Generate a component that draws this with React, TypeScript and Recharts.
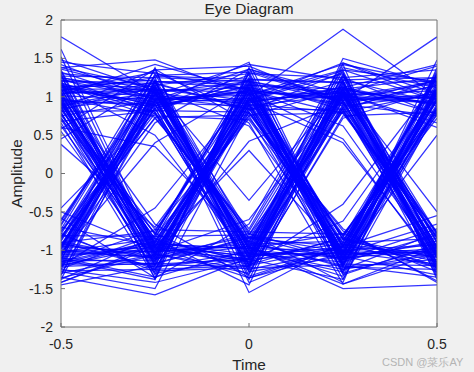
import React from 'react';
import { LineChart, Line, XAxis, YAxis, CartesianGrid } from 'recharts';

// sampling instants of one eye trace
const times = [-0.5, -0.25, 0, 0.25, 0.5];
const xTicks = [-0.5, 0, 0.5];
const yTicks = [-2, -1.5, -1, -0.5, 0, 0.5, 1, 1.5, 2];

// traces starting in the upper band
const tracesHigh: number[][] = [
  [1.78, 1.05, -0.92, 0.88, -1.1],
  [1.62, -0.95, 1.12, -1.05, 0.9],
  [1.45, 1.3, 1.1, -0.85, -1.2],
  [1.38, 1.48, 1.02, 1.35, 0.95],
  [1.3, 1.2, 1.15, 1.1, 1.25],
  [1.22, -1.1, -0.88, 1.05, 1.4],
  [1.15, 0.85, -1.2, -0.95, 1.1],
  [1.1, -0.9, -1.05, -1.15, -0.8],
  [1.05, 1.1, 0.95, 1.3, -0.9],
  [1.0, -1.25, 0.9, 0.8, 1.05],
  [0.95, 0.9, -0.8, 1.2, -1.3],
  [0.9, -0.85, 1.25, -1.2, 1.15],
  [0.85, 1.35, 1.4, 0.9, 0.75],
  [0.8, -1.3, -1.1, 1.3, -1.05],
  [0.75, 0.95, 1.05, -1.3, 0.85],
  [0.7, -1.0, 0.8, -0.75, -1.4],
  [0.6, 0.35, -0.9, 1.0, 1.2],
  [0.55, -1.15, 1.15, 1.05, -0.95],
  [0.45, 1.2, -1.25, -1.0, 1.3],
  [0.38, -0.7, 0.95, 0.4, -1.15],
  [1.25, 1.0, 0.85, -1.1, 1.0],
  [1.18, -1.05, -1.3, 0.75, 0.8],
  [1.08, 1.25, -1.0, -1.25, -1.05],
  [1.02, -0.8, 1.3, 1.25, 1.35],
  [0.98, 0.75, 0.7, -0.9, -0.85],
  [1.12, 0.9, 1.45, -1.05, 1.1],
  [0.92, -1.2, 1.0, 1.88, 1.0],
  [1.2, 1.15, -1.05, 1.5, 1.15],
  [0.88, 1.05, 1.2, 0.95, 1.78],
  [1.05, -0.95, 0.3, -1.05, 0.95],
  [0.95, -1.05, 1.05, 0.45, -1.2],
  [1.15, 0.5, -1.1, 1.05, 0.6],
  [1.32, 0.92, 0.88, 1.02, -1.08],
  [1.28, -1.12, 1.18, -0.92, -1.22],
  [0.82, 1.18, -0.78, -1.12, 1.12],
  [0.78, -0.98, -1.18, 1.22, 0.92],
  [1.48, 1.08, 1.12, -1.02, 1.32],
  [1.52, -1.02, -0.92, -0.88, 1.02],
  [0.68, 0.82, 1.22, 1.18, -1.32],
  [0.98, -1.22, -1.02, -1.28, 1.08],
];

// more upper-band traces
const tracesHigh2: number[][] = [
  [1.12, 1.22, -1.12, 0.82, -1.02],
  [1.02, -0.88, 0.92, 1.12, 0.78],
  [1.18, 0.78, -0.88, -1.22, -1.12],
  [0.88, -1.32, 1.32, 0.92, 1.22],
  [1.08, 1.32, 0.78, -0.82, 0.72],
  [0.72, -0.78, -1.32, 1.02, -0.78],
  [1.22, 0.98, 1.02, 1.42, -1.38],
  [0.92, -1.12, -0.78, -1.42, 1.38],
  [1.38, 1.12, -1.28, 0.72, 1.08],
  [1.02, 1.42, 1.08, 0.78, -0.82],
  [1.3, -1.38, 0.98, -1.08, 1.48],
  [0.85, 1.02, -1.42, -0.92, -1.08],
  [1.15, -0.92, -0.98, 1.42, 1.18],
  [0.95, 0.88, 1.28, -1.22, 0.88],
  [1.05, -1.08, 0.42, 0.92, -0.98],
  [1.1, 1.1, 0.62, -1.05, -1.02],
  [0.9, 1.2, 1.1, 0.62, -1.1],
  [1.25, 1.05, -1.0, 1.1, -0.5],
  [0.62, -1.05, 1.1, -0.95, 1.3],
  [1.35, -0.98, -1.12, -1.02, -1.18],
  [1.01, 0.97, -1.03, 1.06, -0.96],
  [0.96, -1.04, 0.99, -0.95, 1.05],
  [1.07, 1.01, 0.94, -1.06, -0.98],
  [0.93, -0.96, -1.07, 1.02, 1.08],
  [1.04, 1.08, -0.93, -1.09, 0.97],
  [0.99, -1.07, 1.05, 1.04, -1.06],
  [1.09, 0.93, 1.08, 0.96, 1.03],
  [0.94, -0.92, -0.98, -1.0, -0.93],
  [1.14, 1.13, -1.17, 0.86, 1.15],
  [0.87, -1.15, 0.85, -1.12, -0.88],
  [1.17, 0.88, 1.13, -0.86, 0.84],
  [0.83, -0.85, -1.15, 1.17, -1.16],
  [1.21, 1.17, 0.83, 1.13, -0.85],
  [0.79, -1.18, -0.84, -0.83, 1.18],
  [1.24, 0.8, -1.23, -1.19, 0.78],
  [0.76, -0.78, 1.19, 0.83, 1.22],
  [1.27, 1.25, 1.2, -1.22, -1.25],
  [0.73, -1.27, -1.23, 1.25, 0.77],
  [1.16, 0.73, 0.76, 0.79, -0.76],
  [0.84, -0.73, 0.75, -1.27, 1.27],
  [1.11, -0.91, 1.09, 0.91, -1.09],
  [0.89, 1.11, -0.89, 1.09, 0.91],
  [1.19, -1.19, -1.21, 1.18, 1.2],
  [0.81, 0.82, 0.8, -0.81, 0.83],
  [1.36, 1.06, -0.96, -1.34, 1.06],
  [0.66, -1.36, 1.34, 0.94, -1.04],
  [1.42, 0.96, 1.36, 1.04, 0.66],
  [1.06, -0.66, -1.36, -0.96, 1.34],
  [0.58, 1.36, 0.66, -1.44, -0.96],
  [1.33, -1.04, 0.96, 1.44, 1.04],
];

// traces starting in the lower band
const tracesLow: number[][] = [
  [-1.45, -1.2, 0.9, -1.05, 1.1],
  [-1.38, 0.95, -1.1, 1.15, -0.9],
  [-1.3, -1.05, -1.25, 0.85, -1.2],
  [-1.25, 1.1, 1.05, -1.2, -1.35],
  [-1.2, -0.9, 0.75, 1.1, 0.9],
  [-1.15, 1.3, -0.85, -0.95, 1.05],
  [-1.1, -1.35, -1.0, -1.1, -1.0],
  [-1.05, 0.85, 1.2, 1.0, -1.1],
  [-1.0, -1.1, -0.95, 1.35, 1.2],
  [-0.95, 1.05, 0.9, -0.8, 0.8],
  [-0.9, -0.75, 1.1, -1.3, -0.95],
  [-0.85, 1.2, -1.2, 0.9, 1.15],
  [-0.8, -1.25, 0.85, 1.2, -1.25],
  [-0.75, 0.9, -1.05, -1.05, 0.95],
  [-0.7, -0.95, -1.15, -0.85, -1.1],
  [-0.6, 1.15, 1.3, -1.15, 1.3],
  [-0.5, -1.0, 0.95, 1.05, -0.8],
  [-0.45, 0.8, -0.9, -1.2, 0.85],
  [-1.35, -1.58, -1.1, 0.95, 1.0],
  [-1.28, -1.5, 0.8, -1.0, -1.05],
  [-1.12, 1.0, -1.55, -0.9, 1.25],
  [-1.02, -0.85, -1.45, 1.1, -0.95],
  [-0.98, 0.95, -0.95, -1.5, -1.45],
  [-1.05, 1.1, -0.35, 1.1, -1.0],
  [-0.95, 0.85, -1.2, -0.4, 1.2],
  [-1.2, -0.45, 1.05, -0.95, -0.55],
  [-1.32, 0.88, 1.08, 0.98, 1.18],
  [-1.18, -1.18, 1.22, -1.18, 0.88],
  [-1.08, 1.22, -1.08, 1.28, -1.18],
  [-0.92, -1.08, -0.82, -1.02, 1.28],
  [-1.01, -0.97, 1.03, -1.04, 0.96],
  [-0.97, 1.04, -0.98, 0.95, -1.05],
  [-1.06, -1.01, -0.95, 1.05, 0.98],
  [-0.93, 0.96, 1.07, -1.02, -1.08],
  [-1.03, -1.08, 0.93, 1.08, -0.97],
  [-0.99, 1.07, -1.05, -1.04, 1.06],
  [-1.09, -0.93, -1.08, -0.96, -1.03],
  [-0.94, 0.92, 0.98, 1.0, 0.93],
  [-1.14, -1.13, 1.17, -0.86, -1.15],
  [-0.87, 1.15, -0.85, 1.12, 0.88],
];

// more lower-band traces
const tracesLow2: number[][] = [
  [-0.88, 0.98, 0.92, -1.32, -0.92],
  [-0.78, -1.28, 1.12, 0.88, 1.02],
  [-1.22, 1.12, -0.98, -0.78, -1.28],
  [-1.42, -0.92, -1.22, 1.08, -0.88],
  [-0.68, 1.28, 1.32, -0.98, 0.98],
  [-1.02, -1.02, 0.82, 1.32, -1.02],
  [-1.12, -1.38, 1.38, -1.12, -0.72],
  [-0.98, 1.38, -1.38, 1.12, 1.42],
  [-1.38, -0.82, 0.72, -0.72, -1.42],
  [-0.82, 0.72, -0.72, 1.38, 1.12],
  [-1.25, -1.42, -1.12, -1.38, 0.82],
  [-1.08, 1.02, 1.42, 1.22, -1.22],
  [-0.9, -1.22, -1.08, 0.98, 0.92],
  [-1.15, -0.88, 0.88, -1.38, 1.12],
  [-1.02, 1.08, -1.28, -1.08, -1.32],
  [-1.05, 0.4, 1.12, -1.12, 1.05],
  [-0.95, -1.02, -0.6, 1.0, 0.98],
  [-1.1, -1.18, -1.12, -0.62, 1.1],
  [-1.2, -0.95, 1.0, -1.1, 0.5],
  [-0.62, 1.12, -1.05, 1.02, -1.25],
  [-1.17, -0.88, -1.13, 0.86, -0.84],
  [-0.83, 0.85, 1.15, -1.17, 1.16],
  [-1.21, -1.17, -0.83, -1.13, 0.85],
  [-0.79, 1.18, 0.84, 0.83, -1.18],
  [-1.24, -0.8, 1.23, 1.19, -0.78],
  [-0.76, 0.78, -1.19, -0.83, -1.22],
  [-1.27, -1.25, -1.2, 1.22, 1.25],
  [-0.73, 1.27, 1.23, -1.25, -0.77],
  [-1.16, -0.73, -0.76, -0.79, 0.76],
  [-0.84, 0.73, -0.75, 1.27, -1.27],
  [-1.11, 0.91, -1.09, -0.91, 1.09],
  [-0.89, -1.11, 0.89, -1.09, -0.91],
  [-1.19, 1.19, 1.21, -1.18, -1.2],
  [-0.81, -0.82, -0.8, 0.81, -0.83],
  [-1.36, -1.06, 0.96, 1.34, -1.06],
  [-0.66, 1.36, -1.34, -0.94, 1.04],
  [-1.42, -0.96, -1.36, -1.04, -0.66],
  [-1.06, 0.66, 1.36, 0.96, -1.34],
  [-0.58, -1.36, -0.66, 1.44, 0.96],
  [-1.33, 1.04, -0.96, -1.44, -1.04],
];

const traces = [...tracesHigh, ...tracesHigh2, ...tracesLow, ...tracesLow2];

const rows = times.map((t, j) => {
  const r: Record<string, number> = { t };
  traces.forEach((tr, i) => {
    r['s' + i] = tr[j];
  });
  return r;
});

const FONT = '"Liberation Sans", Arial, Helvetica, sans-serif';
const TXT = '#262626';
const FRAME = '#707070';

export default function App() {
  return (
    <div
      style={{
        position: 'absolute',
        left: 0,
        top: 0,
        width: 474,
        height: 372,
        background: '#f0f0f0',
        fontFamily: FONT,
      }}
    >
      <LineChart
        width={474}
        height={372}
        data={rows}
        margin={{ top: 19, right: 36, bottom: 0, left: 0 }}
      >
        <CartesianGrid fill="#ffffff" horizontal={false} vertical={false} />
        <XAxis
          dataKey="t"
          type="number"
          domain={[-0.5, 0.5]}
          ticks={xTicks}
          height={45}
          tickSize={-4}
          tickMargin={16}
          axisLine={{ stroke: FRAME }}
          tickLine={{ stroke: FRAME }}
          tick={{ fill: TXT, fontSize: 14, fontFamily: FONT }}
          allowDataOverflow
          label={{
            value: 'Time',
            position: 'insideBottom',
            offset: 2,
            fill: TXT,
            fontSize: 15.4,
            fontFamily: FONT,
          }}
        />
        <XAxis
          xAxisId="top"
          orientation="top"
          type="number"
          domain={[-0.5, 0.5]}
          ticks={xTicks}
          height={1}
          tickSize={-4}
          axisLine={{ stroke: FRAME }}
          tickLine={{ stroke: FRAME }}
          tick={false}
          allowDataOverflow
          label={{
            value: 'Eye Diagram',
            position: 'top',
            offset: 5,
            fill: TXT,
            fontSize: 15.4,
            fontFamily: FONT,
          }}
        />
        <YAxis
          type="number"
          domain={[-2, 2]}
          ticks={yTicks}
          width={61}
          tickSize={-4}
          tickMargin={12}
          axisLine={{ stroke: FRAME }}
          tickLine={{ stroke: FRAME }}
          tick={{ fill: TXT, fontSize: 14, fontFamily: FONT }}
          allowDataOverflow
          label={{
            value: 'Amplitude',
            angle: -90,
            position: 'insideLeft',
            offset: 17,
            fill: TXT,
            fontSize: 15.4,
            fontFamily: FONT,
            style: { textAnchor: 'middle' },
          }}
        />
        <YAxis
          yAxisId="right"
          orientation="right"
          type="number"
          domain={[-2, 2]}
          ticks={yTicks}
          width={1}
          tickSize={-4}
          axisLine={{ stroke: FRAME }}
          tickLine={{ stroke: FRAME }}
          tick={false}
          allowDataOverflow
        />
        {traces.map((_, i) => (
          <Line
            key={i}
            dataKey={'s' + i}
            type="linear"
            stroke="#0000ff"
            strokeWidth={1.25}
            strokeOpacity={0.8}
            dot={false}
            activeDot={false}
            isAnimationActive={false}
          />
        ))}
      </LineChart>
      <div
        style={{
          position: 'absolute',
          left: 382,
          top: 355,
          fontSize: 11,
          color: '#b4b4b4',
          fontFamily: FONT,
          whiteSpace: 'nowrap',
        }}
      >
        CSDN @菜乐AY
      </div>
    </div>
  );
}
